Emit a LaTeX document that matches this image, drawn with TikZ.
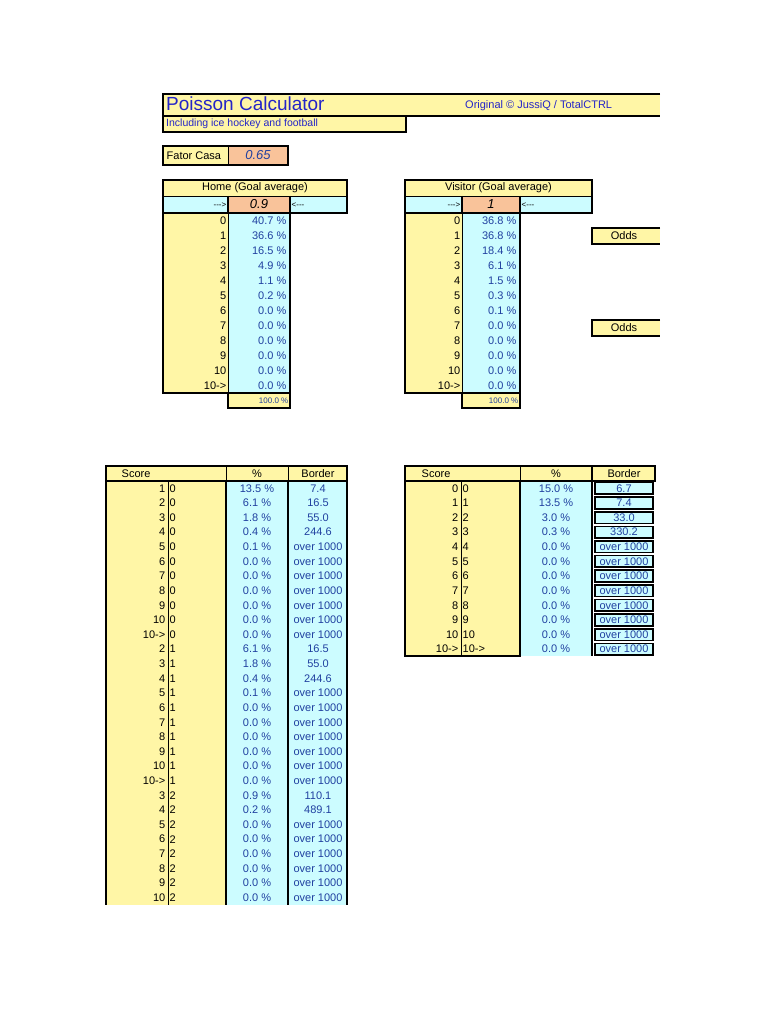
\documentclass[tikz,border=0pt]{standalone}
\usepackage{fontspec}
\setmainfont{Liberation Sans}
\definecolor{yel}{HTML}{FFF6A6}
\definecolor{cya}{HTML}{CCFCFF}
\definecolor{ora}{HTML}{F9C39A}
\definecolor{tblue}{HTML}{2424C8}
\definecolor{nblue}{HTML}{2040A0}
\begin{document}
\begin{tikzpicture}[x=1pt,y=-1pt,
  thick/.style={line width=1.6pt},
  thin/.style={line width=0.5pt},
  txt/.style={inner sep=1.5pt,font=\fontsize{11}{12}\selectfont},
  num/.style={txt,text=nblue},
  sm/.style={inner sep=1.5pt,font=\fontsize{8}{9}\selectfont,text=nblue}]
\useasboundingbox (0,0) rectangle (768,1024);
% title
\fill[yel] (163,94) rectangle (660,116);
\fill[yel] (163,116) rectangle (406,132);
\draw[thick] (660,94) -- (163,94) -- (163,132) -- (406,132) -- (406,116) -- (660,116);
\draw[thick] (163,116) -- (406,116);
\node[anchor=west,inner sep=0,text=tblue,font=\fontsize{19}{20}\selectfont] (title) at (166,104) {Poisson Calculator};
\node[anchor=west,inner sep=0,text=tblue,font=\fontsize{11}{12}\selectfont] (orig) at (465,106) {Original © JussiQ / TotalCTRL};
\node[anchor=west,inner sep=0,text=tblue,font=\fontsize{10.5}{12}\selectfont] (sub) at (166,124) {Including ice hockey and football};
% fator casa
\fill[yel] (163,146) rectangle (228,165);
\fill[ora] (228,146) rectangle (288,165);
\draw[thick] (163,146) rectangle (288,165);
\draw[thin] (228,146) -- (228,165);
\node[txt,anchor=west] (fc) at (165,156) {Fator Casa};
\node[anchor=center,inner sep=0,font=\fontsize{13}{14}\selectfont\itshape,text=nblue] (fcv) at (258,155) {0.65};
% goal tables
\foreach \xa/\xb/\xc/\xd/\ttl/\val/\nm in {163/228/290/347/Home/0.9/h, 405/462/520/592/Visitor/1/v}{
  \fill[yel] (\xa,180) rectangle (\xd,196);
  \fill[cya] (\xa,196) rectangle (\xd,213);
  \fill[ora] (\xb,196) rectangle (\xc,213);
  \fill[yel] (\xa,213) rectangle (\xb,393);
  \fill[cya] (\xb,213) rectangle (\xc,393);
  \fill[yel] (\xb,393) rectangle (\xc,408);
  \draw[thick] (\xa,180) rectangle (\xd,213);
  \draw[thin] (\xa,196) -- (\xd,196);
  \draw[thick] (\xb,196) -- (\xb,213) (\xc,196) -- (\xc,213);
  \draw[thick] (\xa,213) rectangle (\xc,393);
  \draw[thin] (\xb,213) -- (\xb,393);
  \draw[thick] (\xb,393) rectangle (\xc,408);
  \node[txt] (\nm hd) at ({(\xa+\xd)/2},188) {\ttl{} (Goal average)};
  \node[sm,text=black,anchor=east] (\nm l) at (\xb,205) {{-}{-}{-}>};
  \node[sm,text=black,anchor=west] (\nm r) at (\xc,205) {<{-}{-}{-}};
  \node[anchor=center,inner sep=0,font=\fontsize{13}{14}\selectfont\itshape,text=black] (\nm val) at ({(\xb+\xc)/2},204) {\val};
  \node[sm,anchor=east] (\nm tot) at (\xc,401) {100.0 \%};
}
\foreach \i/\lab/\p/\q in {0/0/40.7/36.8,1/1/36.6/36.8,2/2/16.5/18.4,3/3/4.9/6.1,4/4/1.1/1.5,5/5/0.2/0.3,6/6/0.0/0.1,7/7/0.0/0.0,8/8/0.0/0.0,9/9/0.0/0.0,10/10/0.0/0.0,11/10->/0.0/0.0}{
  \node[txt,anchor=east] (hl\i) at (228,{220.5+15*\i}) {\lab};
  \node[num,anchor=east] (hp\i) at (288,{220.5+15*\i}) {\p\ \%};
  \node[txt,anchor=east] (vl\i) at (462,{220.5+15*\i}) {\lab};
  \node[num,anchor=east] (vp\i) at (518,{220.5+15*\i}) {\q\ \%};
}
% odds
\foreach \y/\n in {228/1,320/2}{
  \fill[yel] (592,\y) rectangle (660,\y+16);
  \draw[thick] (660,\y) -- (592,\y) -- (592,\y+16) -- (660,\y+16);
  \node[txt] (odds\n) at (624,\y+8) {Odds};
}
% lower left table
\def\rh{14.62}
\fill[yel] (106,466) rectangle (347,481);
\fill[yel] (106,481) rectangle (226,905);
\fill[cya] (226,481) rectangle (347,905);
\draw[thick] (106,466) rectangle (347,481);
\draw[thin] (226,466) -- (226,481) (288,466) -- (288,481);
\draw[thick] (106,481) -- (106,905) (226,481) -- (226,905) (288,481) -- (288,905) (347,481) -- (347,905);
\draw[thin] (168,481) -- (168,905);
\node[txt,anchor=west] (sl) at (120,473.5) {Score};
\node[txt] (pl) at (257,473.5) {\%};
\node[txt] (bl) at (318,473.5) {Border};
\foreach \a/\b/\p/\bd [count=\i from 0] in {1/0/13.5/7.4,2/0/6.1/16.5,3/0/1.8/55.0,4/0/0.4/244.6,5/0/0.1/over 1000,6/0/0.0/over 1000,7/0/0.0/over 1000,8/0/0.0/over 1000,9/0/0.0/over 1000,10/0/0.0/over 1000,10->/0/0.0/over 1000,2/1/6.1/16.5,3/1/1.8/55.0,4/1/0.4/244.6,5/1/0.1/over 1000,6/1/0.0/over 1000,7/1/0.0/over 1000,8/1/0.0/over 1000,9/1/0.0/over 1000,10/1/0.0/over 1000,10->/1/0.0/over 1000,3/2/0.9/110.1,4/2/0.2/489.1,5/2/0.0/over 1000,6/2/0.0/over 1000,7/2/0.0/over 1000,8/2/0.0/over 1000,9/2/0.0/over 1000,10/2/0.0/over 1000}{
  \node[txt,anchor=east] (la\i) at (167,{488.3+\rh*\i}) {\a};
  \node[txt,anchor=west] (lb\i) at (168,{488.3+\rh*\i}) {\b};
  \node[num] (lp\i) at (257,{488.3+\rh*\i}) {\p\ \%};
  \node[num] (lbd\i) at (318,{488.3+\rh*\i}) {\bd};
}
% lower right table
\fill[yel] (405,466) rectangle (655,481);
\fill[yel] (405,481) rectangle (520,656);
\fill[cya] (520,481) rectangle (592,656);
\draw[thick] (405,466) rectangle (655,481);
\draw[thin] (520,466) -- (520,481);
\draw[thick] (592,466) -- (592,481);
\draw[thick] (405,481) rectangle (520,656);
\draw[thin] (461,481) -- (461,656);
\draw[thick] (592,481) -- (592,656);
\node[txt,anchor=west] (sr) at (420,473.5) {Score};
\node[txt] (pr) at (556,473.5) {\%};
\node[txt] (br) at (624,473.5) {Border};
\foreach \a/\p/\bd [count=\i from 0] in {0/15.0/6.7,1/13.5/7.4,2/3.0/33.0,3/0.3/330.2,4/0.0/over 1000,5/0.0/over 1000,6/0.0/over 1000,7/0.0/over 1000,8/0.0/over 1000,9/0.0/over 1000,10/0.0/over 1000,10->/0.0/over 1000}{
  \fill[cya] (595,{482.5+\rh*\i}) rectangle (653,{481+\rh*(\i+1)-1.5});
  \draw[thick] (595,{482.5+\rh*\i}) rectangle (653,{481+\rh*(\i+1)-1.5});
  \node[txt,anchor=east] (ra\i) at (460,{488.3+\rh*\i}) {\a};
  \node[txt,anchor=west] (rb\i) at (461,{488.3+\rh*\i}) {\a};
  \node[num] (rp\i) at (556,{488.3+\rh*\i}) {\p\ \%};
  \node[num] (rbd\i) at (624,{488.3+\rh*\i}) {\bd};
}
\end{tikzpicture}
\end{document}
